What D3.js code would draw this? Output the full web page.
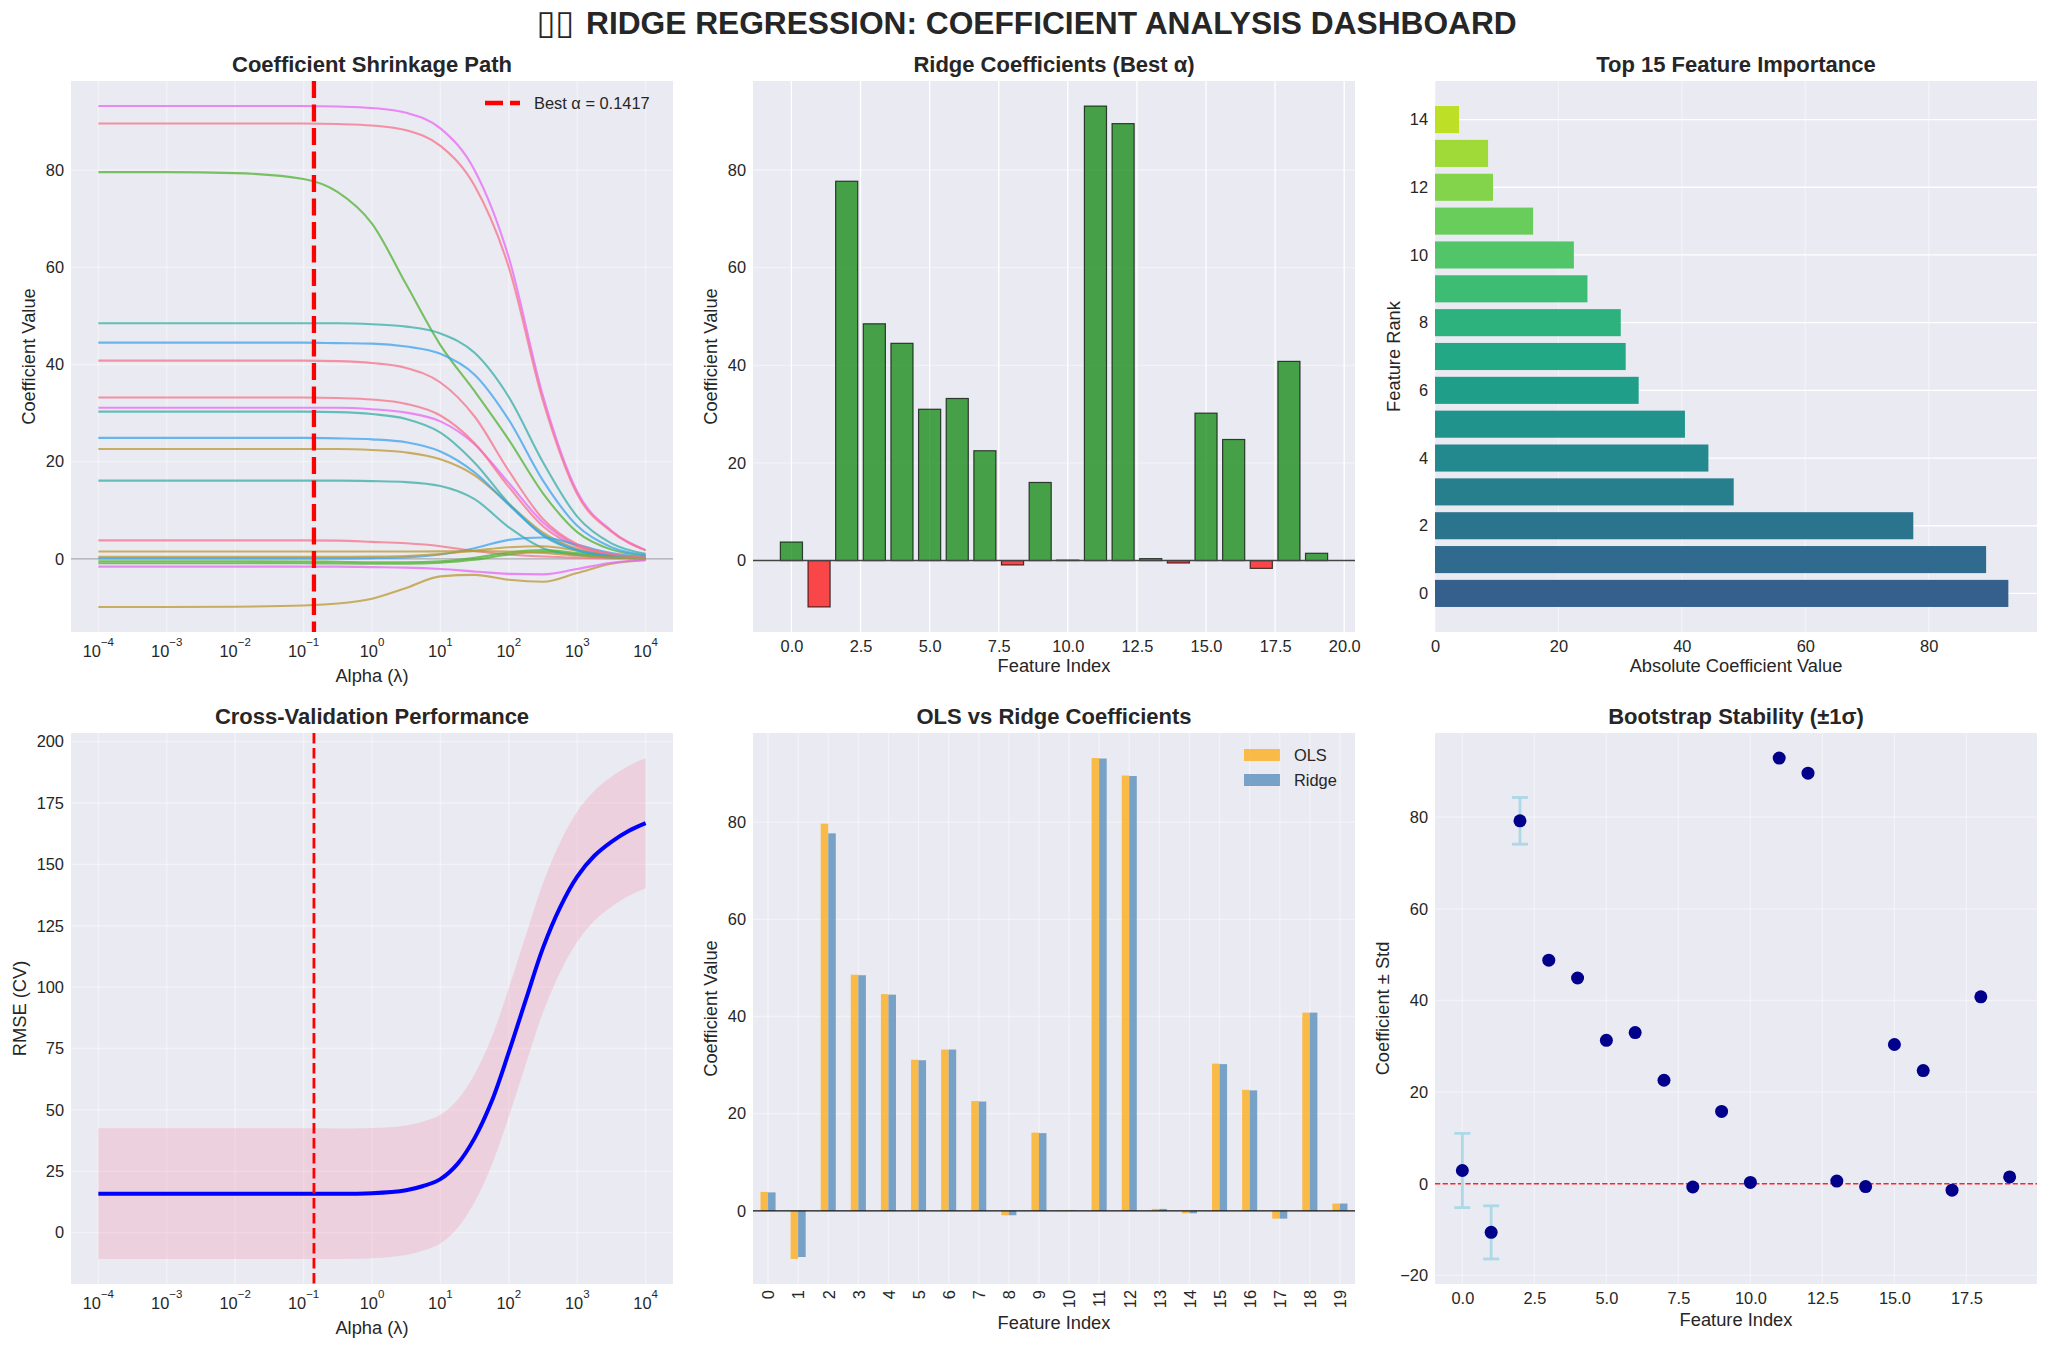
<!DOCTYPE html>
<html>
<head>
<meta charset="utf-8">
<script src="https://cdn.jsdelivr.net/npm/d3@7"></script>
<style>
body { margin: 0; background: #fff; }
text { font-family: "Liberation Sans", Arial, sans-serif; fill: #262626; }
</style>
</head>
<body>
<svg id="fig" width="2048" height="1349"></svg>
<script>

// ---------- data ----------
var features = [0, 1, 2, 3, 4, 5, 6, 7, 8, 9, 10, 11, 12, 13, 14, 15, 16, 17, 18, 19];
var olsCoef   = [3.9, -9.9, 79.7, 48.6, 44.6, 31.1, 33.2, 22.6, -0.9, 16.1, 0.1, 93.2, 89.6, 0.4, -0.5, 30.3, 24.9, -1.6, 40.8, 1.5];
var ridgeCoef = [3.8, -9.5, 77.7, 48.5, 44.5, 31.0, 33.2, 22.5, -0.9, 16.0, 0.1, 93.1, 89.5, 0.4, -0.5, 30.2, 24.8, -1.6, 40.8, 1.5];
var bestAlpha = 0.1417;

// shrinkage path, sampled along alpha
var pathAlpha = [1e-4, 1e-3, 1e-2, 1e-1, 0.316, 1, 3.16, 10, 31.6, 100, 316, 1000, 3160, 1e4];
var pathCoef = [
  [3.8, 3.8, 3.8, 3.8, 3.75, 3.5, 3.2, 2.6, 1.6, 0.9, 0.5, 0.25, 0.1, 0.04],
  [-9.9, -9.9, -9.85, -9.6, -9.2, -8.2, -6.0, -3.6, -3.3, -4.3, -4.7, -2.9, -1.0, -0.3],
  [79.6, 79.6, 79.4, 78.2, 75.5, 69.0, 56.5, 44.0, 34.5, 24.5, 13.5, 5.5, 1.9, 0.7],
  [48.5, 48.5, 48.5, 48.5, 48.5, 48.3, 47.8, 46.4, 42.4, 33.3, 19.9, 8.7, 3.2, 1.04],
  [44.5, 44.5, 44.5, 44.5, 44.4, 44.3, 43.7, 42.2, 37.9, 28.6, 16.1, 6.8, 2.4, 0.79],
  [31.1, 31.1, 31.1, 31.1, 31.1, 30.8, 30.1, 28.3, 23.6, 15.6, 7.5, 2.8, 0.96, 0.31],
  [33.2, 33.2, 33.2, 33.2, 33.1, 32.8, 31.9, 29.5, 23.8, 14.8, 6.7, 2.5, 0.82, 0.26],
  [22.6, 22.6, 22.6, 22.6, 22.6, 22.4, 21.9, 20.5, 17.2, 11.3, 5.4, 2.05, 0.69, 0.22],
  [-0.9, -0.9, -0.9, -0.9, -0.95, -1.0, -1.0, -0.8, -0.2, 0.9, 1.4, 0.9, 0.35, 0.1],
  [16.1, 16.1, 16.1, 16.1, 16.1, 16.0, 15.8, 15.0, 12.3, 6.5, 2.2, 0.8, 0.3, 0.1],
  [0.1, 0.1, 0.1, 0.1, 0.1, 0.15, 0.3, 0.9, 2.2, 3.9, 4.4, 2.9, 1.2, 0.4],
  [93.2, 93.2, 93.2, 93.2, 93.1, 92.8, 91.8, 88.6, 80.0, 62.0, 33.5, 13.8, 5.8, 1.8],
  [89.6, 89.6, 89.6, 89.6, 89.5, 89.2, 88.2, 85.0, 76.8, 60.0, 32.5, 13.3, 5.6, 1.75],
  [0.4, 0.4, 0.4, 0.4, 0.4, 0.45, 0.6, 1.0, 1.7, 2.4, 2.6, 1.7, 0.6, 0.2],
  [-0.5, -0.5, -0.5, -0.55, -0.6, -0.7, -0.7, -0.5, 0.2, 1.3, 1.8, 1.2, 0.45, 0.15],
  [30.3, 30.3, 30.3, 30.3, 30.2, 29.8, 28.8, 26.0, 19.8, 11.4, 4.8, 1.7, 0.57, 0.18],
  [24.9, 24.9, 24.9, 24.9, 24.8, 24.6, 24.0, 22.1, 17.8, 11.1, 5.0, 1.84, 0.62, 0.2],
  [-1.6, -1.6, -1.6, -1.6, -1.6, -1.7, -1.8, -2.1, -2.6, -3.1, -3.2, -2.1, -0.8, -0.25],
  [40.8, 40.8, 40.8, 40.8, 40.7, 40.3, 39.3, 36.3, 29.3, 18.1, 8.2, 3.0, 1.0, 0.32],
  [1.5, 1.5, 1.5, 1.5, 1.5, 1.5, 1.5, 1.55, 1.6, 1.5, 1.2, 0.7, 0.3, 0.1]
];

// cross-validation curve
var cvAlpha = [1e-4, 1e-3, 1e-2, 1e-1, 1, 3.16, 5.62, 10, 17.8, 31.6, 56.2, 100, 178, 316, 562, 1000, 1780, 3160, 5620, 1e4];
var cvMean  = [15.9, 15.9, 15.9, 15.9, 16.1, 17.3, 19.0, 21.8, 28.0, 38.5, 53.5, 73.5, 95.0, 116.0, 132.5, 145.0, 153.5, 159.2, 163.6, 166.8];
var cvStd   = [26.6, 26.6, 26.6, 26.6, 26.5, 26.4, 26.3, 26.2, 26.1, 26.0, 26.0, 26.1, 26.2, 26.3, 26.4, 26.5, 26.5, 26.5, 26.5, 26.5];

// top 15 importance
var ranks = [0, 1, 2, 3, 4, 5, 6, 7, 8, 9, 10, 11, 12, 13, 14];
var importance = [92.9, 89.3, 77.5, 48.4, 44.3, 40.5, 33.0, 30.9, 30.1, 24.7, 22.5, 15.9, 9.4, 8.6, 3.9];

// bootstrap
var bootMean = [2.9, -10.6, 79.2, 48.8, 44.9, 31.3, 33.0, 22.6, -0.7, 15.8, 0.3, 92.9, 89.6, 0.6, -0.6, 30.4, 24.7, -1.4, 40.8, 1.5];
var bootStd  = [8.1, 5.8, 5.1, 0, 0, 0, 0, 0, 0, 0, 0, 0, 0, 0, 0, 0, 0, 0, 0, 0];

// ticks
var decades = [-4, -3, -2, -1, 0, 1, 2, 3, 4];
var coefTicks = [0, 20, 40, 60, 80];
var rmseTicks = [0, 25, 50, 75, 100, 125, 150, 175, 200];
var idxTicks = [0, 2.5, 5, 7.5, 10, 12.5, 15, 17.5, 20];
var rankTicks = [0, 2, 4, 6, 8, 10, 12, 14];
var impTicks = [0, 20, 40, 60, 80];
var bootTicks = [-20, 0, 20, 40, 60, 80];

// ---------- layout ----------
var svg = d3.select("#fig");
var colX = [71, 753, 1435], rowY = [81, 733];
var PW = 602, PH = 551;
var TICK = 16.4, LABEL = 18.3, TITLE = 22;
var husl6 = ["#f77189", "#bb9832", "#50b131", "#36ada4", "#3ba3ec", "#e866f4"];
var faint = 0.4;

function makePanel(col, row) {
  var p = {x: colX[col], y: rowY[row], w: PW, h: PH};
  p.g = svg.append("g");
  p.g.append("rect").attr("x", p.x).attr("y", p.y).attr("width", p.w).attr("height", p.h)
    .attr("fill", "#eaeaf2");
  p.bottom = p.y + p.h;
  p.right = p.x + p.w;
  return p;
}

function padded(lo, hi) {
  var d = (hi - lo) * 0.05;
  return [lo - d, hi + d];
}

function logPadded(vals) {
  var lo = Math.log10(d3.min(vals)), hi = Math.log10(d3.max(vals));
  var d = (hi - lo) * 0.05;
  return [Math.pow(10, lo - d), Math.pow(10, hi + d)];
}

function gridX(p, x, vals, op) {
  p.g.selectAll(null).data(vals).enter().append("line")
    .attr("x1", function(d) { return x(d); }).attr("x2", function(d) { return x(d); })
    .attr("y1", p.y).attr("y2", p.bottom)
    .attr("stroke", "#fff").attr("stroke-width", 1.3).attr("stroke-opacity", op);
}

function gridY(p, y, vals, op) {
  p.g.selectAll(null).data(vals).enter().append("line")
    .attr("y1", function(d) { return y(d); }).attr("y2", function(d) { return y(d); })
    .attr("x1", p.x).attr("x2", p.right)
    .attr("stroke", "#fff").attr("stroke-width", 1.3).attr("stroke-opacity", op);
}

function styleAxis(g) {
  g.attr("font-size", null).attr("font-family", null);
  g.select(".domain").remove();
  g.selectAll("text").attr("font-size", TICK).attr("fill", "#262626");
  return g;
}

function yAxis(p, y, vals, fmt) {
  return styleAxis(p.g.append("g").attr("transform", "translate(" + p.x + ",0)")
    .call(d3.axisLeft(y).tickValues(vals).tickFormat(fmt).tickSize(0).tickPadding(7)));
}

function xAxis(p, x, vals, fmt) {
  return styleAxis(p.g.append("g").attr("transform", "translate(0," + p.bottom + ")")
    .call(d3.axisBottom(x).tickValues(vals).tickFormat(fmt).tickSize(0).tickPadding(8)));
}

function logXAxis(p, x) {
  var g = p.g.append("g");
  decades.forEach(function(e) {
    var t = g.append("text").attr("x", x(Math.pow(10, e))).attr("y", p.bottom + 25)
      .attr("text-anchor", "middle").attr("font-size", TICK).text("10");
    t.append("tspan").attr("dy", -11).attr("font-size", 11.5)
      .text(e < 0 ? "\u2212" + (-e) : String(e));
  });
}

function labels(p, title, xl, yl, xOff, yOff) {
  p.g.append("text").attr("x", p.x + p.w / 2).attr("y", p.y - 9)
    .attr("text-anchor", "middle").attr("font-size", TITLE).attr("font-weight", "bold").text(title);
  p.g.append("text").attr("x", p.x + p.w / 2).attr("y", p.bottom + xOff)
    .attr("text-anchor", "middle").attr("font-size", LABEL).text(xl);
  p.g.append("text").attr("text-anchor", "middle").attr("font-size", LABEL)
    .attr("transform", "translate(" + (p.x - yOff) + "," + (p.y + p.h / 2) + ") rotate(-90)")
    .text(yl);
}

var fmt0 = d3.format("d"), fmt1 = d3.format(".1f");

// ---------- suptitle ----------
// the two leading glyphs were missing in the original font and show as empty boxes
svg.append("text").attr("x", 574).attr("y", 34).attr("text-anchor", "end")
  .attr("font-size", 34).style("font-family", "'DejaVu Sans'").attr("fill", "#555")
  .text("\u25AF\u25AF");
svg.append("text").attr("x", 586).attr("y", 34)
  .attr("font-size", 31.7).attr("font-weight", "bold")
  .text("RIDGE REGRESSION: COEFFICIENT ANALYSIS DASHBOARD");

// ---------- 1: coefficient shrinkage path ----------
var p1 = makePanel(0, 0);
var x1 = d3.scaleLog().domain(logPadded(pathAlpha)).range([p1.x, p1.right]);
var allPath = d3.merge(pathCoef);
var y1 = d3.scaleLinear().domain(padded(d3.min(allPath), d3.max(allPath))).range([p1.bottom, p1.y]);
gridX(p1, x1, decades.map(function(e) { return Math.pow(10, e); }), faint);
gridY(p1, y1, coefTicks, faint);
p1.g.append("line").attr("x1", p1.x).attr("x2", p1.right).attr("y1", y1(0)).attr("y2", y1(0))
  .attr("stroke", "#000").attr("stroke-opacity", 0.3).attr("stroke-width", 1.1);
var line1 = d3.line().curve(d3.curveMonotoneX)
  .x(function(d, j) { return x1(pathAlpha[j]); }).y(function(d) { return y1(d); });
pathCoef.forEach(function(row, i) {
  p1.g.append("path").datum(row).attr("d", line1).attr("fill", "none")
    .attr("stroke", husl6[i % 6]).attr("stroke-width", 2.1).attr("stroke-opacity", 0.75);
});
p1.g.append("line").attr("x1", x1(bestAlpha)).attr("x2", x1(bestAlpha)).attr("y1", p1.y).attr("y2", p1.bottom)
  .attr("stroke", "red").attr("stroke-width", 4.3).attr("stroke-dasharray", "17,6.5");
p1.g.append("line").attr("x1", 485).attr("x2", 520).attr("y1", 103).attr("y2", 103)
  .attr("stroke", "red").attr("stroke-width", 4.3).attr("stroke-dasharray", "18,7");
p1.g.append("text").attr("x", 534).attr("y", 109).attr("font-size", TICK)
  .text("Best \u03b1 = " + bestAlpha);
yAxis(p1, y1, coefTicks, fmt0);
logXAxis(p1, x1);
labels(p1, "Coefficient Shrinkage Path", "Alpha (\u03bb)", "Coefficient Value", 50, 36);

// ---------- 2: ridge coefficients ----------
var p2 = makePanel(1, 0);
var x2 = d3.scaleLinear().domain(padded(-0.4, features.length - 1 + 0.4)).range([p2.x, p2.right]);
var y2 = d3.scaleLinear().domain(padded(Math.min(0, d3.min(ridgeCoef)), d3.max(ridgeCoef))).range([p2.bottom, p2.y]);
gridX(p2, x2, idxTicks, 1);
gridY(p2, y2, coefTicks, faint);
p2.g.selectAll(null).data(features).enter().append("rect")
  .attr("x", function(i) { return x2(i - 0.4); })
  .attr("width", x2(0.8) - x2(0))
  .attr("y", function(i) { return y2(Math.max(0, ridgeCoef[i])); })
  .attr("height", function(i) { return Math.abs(y2(ridgeCoef[i]) - y2(0)); })
  .attr("fill", function(i) { return ridgeCoef[i] >= 0 ? "green" : "red"; })
  .attr("fill-opacity", 0.7)
  .attr("stroke", "#000").attr("stroke-opacity", 0.7).attr("stroke-width", 1.2);
p2.g.append("line").attr("x1", p2.x).attr("x2", p2.right).attr("y1", y2(0)).attr("y2", y2(0))
  .attr("stroke", "#444").attr("stroke-width", 1.5);
yAxis(p2, y2, coefTicks, fmt0);
xAxis(p2, x2, idxTicks, fmt1);
labels(p2, "Ridge Coefficients (Best \u03b1)", "Feature Index", "Coefficient Value", 40, 36);

// ---------- 3: top 15 importance ----------
var p3 = makePanel(2, 0);
var x3 = d3.scaleLinear().domain([0, d3.max(importance) * 1.05]).range([p3.x, p3.right]);
var y3 = d3.scaleLinear().domain(padded(-0.4, ranks.length - 1 + 0.4)).range([p3.bottom, p3.y]);
gridX(p3, x3, impTicks, faint);
gridY(p3, y3, rankTicks, 1);
p3.g.selectAll(null).data(ranks).enter().append("rect")
  .attr("x", x3(0))
  .attr("y", function(r) { return y3(r + 0.4); })
  .attr("width", function(r) { return x3(importance[r]) - x3(0); })
  .attr("height", function(r) { return y3(r - 0.4) - y3(r + 0.4); })
  .attr("fill", function(r) { return d3.interpolateViridis(0.3 + 0.6 * r / (ranks.length - 1)); });
yAxis(p3, y3, rankTicks, fmt0);
xAxis(p3, x3, impTicks, fmt0);
labels(p3, "Top 15 Feature Importance", "Absolute Coefficient Value", "Feature Rank", 40, 35);

// ---------- 4: cross-validation ----------
var p4 = makePanel(0, 1);
var x4 = d3.scaleLog().domain(logPadded(cvAlpha)).range([p4.x, p4.right]);
var cvLo = cvMean.map(function(m, i) { return m - cvStd[i]; });
var cvHi = cvMean.map(function(m, i) { return m + cvStd[i]; });
var y4 = d3.scaleLinear().domain(padded(d3.min(cvLo), d3.max(cvHi))).range([p4.bottom, p4.y]);
var smooth = d3.curveCatmullRom.alpha(0.5);
gridX(p4, x4, decades.map(function(e) { return Math.pow(10, e); }), faint);
gridY(p4, y4, rmseTicks, faint);
p4.g.append("path").datum(cvAlpha)
  .attr("d", d3.area().curve(smooth)
    .x(function(a) { return x4(a); })
    .y0(function(a, i) { return y4(cvLo[i]); })
    .y1(function(a, i) { return y4(cvHi[i]); }))
  .attr("fill", "#f196af").attr("fill-opacity", 0.3);
p4.g.append("path").datum(cvMean)
  .attr("d", d3.line().curve(smooth)
    .x(function(d, i) { return x4(cvAlpha[i]); }).y(function(d) { return y4(d); }))
  .attr("fill", "none").attr("stroke", "blue").attr("stroke-width", 4);
p4.g.append("line").attr("x1", x4(bestAlpha)).attr("x2", x4(bestAlpha)).attr("y1", p4.y).attr("y2", p4.bottom)
  .attr("stroke", "red").attr("stroke-width", 2.8).attr("stroke-dasharray", "10.5,4.5");
yAxis(p4, y4, rmseTicks, fmt0);
logXAxis(p4, x4);
labels(p4, "Cross-Validation Performance", "Alpha (\u03bb)", "RMSE (CV)", 50, 45);

// ---------- 5: OLS vs Ridge ----------
var p5 = makePanel(1, 1);
var x5 = d3.scaleLinear().domain([-0.5, features.length - 0.5]).range([p5.x, p5.right]);
var both = olsCoef.concat(ridgeCoef);
var y5 = d3.scaleLinear().domain(padded(Math.min(0, d3.min(both)), d3.max(both))).range([p5.bottom, p5.y]);
gridX(p5, x5, features, faint);
gridY(p5, y5, coefTicks, faint);
[[olsCoef, "orange", -0.25], [ridgeCoef, "steelblue", 0]].forEach(function(s) {
  p5.g.selectAll(null).data(features).enter().append("rect")
    .attr("x", function(i) { return x5(i + s[2]); })
    .attr("width", x5(0.25) - x5(0))
    .attr("y", function(i) { return y5(Math.max(0, s[0][i])); })
    .attr("height", function(i) { return Math.abs(y5(s[0][i]) - y5(0)); })
    .attr("fill", s[1]).attr("fill-opacity", 0.7);
});
p5.g.append("line").attr("x1", p5.x).attr("x2", p5.right).attr("y1", y5(0)).attr("y2", y5(0))
  .attr("stroke", "#111").attr("stroke-width", 1.1);
[["OLS", "orange", 749], ["Ridge", "steelblue", 774]].forEach(function(l) {
  p5.g.append("rect").attr("x", 1244).attr("y", l[2]).attr("width", 36).attr("height", 12)
    .attr("fill", l[1]).attr("fill-opacity", 0.7);
  p5.g.append("text").attr("x", 1294).attr("y", l[2] + 12).attr("font-size", TICK).text(l[0]);
});
yAxis(p5, y5, coefTicks, fmt0);
var ax5 = xAxis(p5, x5, features, fmt0);
ax5.selectAll("text").attr("y", 0).attr("x", -6).attr("dy", "0.35em")
  .attr("transform", "rotate(-90)").attr("text-anchor", "end");
labels(p5, "OLS vs Ridge Coefficients", "Feature Index", "Coefficient Value", 45, 36);

// ---------- 6: bootstrap stability ----------
var p6 = makePanel(2, 1);
var x6 = d3.scaleLinear().domain(padded(0, features.length - 1)).range([p6.x, p6.right]);
var bLo = bootMean.map(function(m, i) { return m - bootStd[i]; });
var bHi = bootMean.map(function(m, i) { return m + bootStd[i]; });
var y6 = d3.scaleLinear().domain(padded(d3.min(bLo), d3.max(bHi))).range([p6.bottom, p6.y]);
gridX(p6, x6, idxTicks.slice(0, 8), faint);
gridY(p6, y6, bootTicks, faint);
p6.g.append("line").attr("x1", p6.x).attr("x2", p6.right).attr("y1", y6(0)).attr("y2", y6(0))
  .attr("stroke", "red").attr("stroke-opacity", 0.85).attr("stroke-width", 1.5).attr("stroke-dasharray", "5.3,2.3");
var withErr = features.filter(function(i) { return bootStd[i] > 0; });
var eb = p6.g.selectAll(null).data(withErr).enter().append("g")
  .attr("stroke", "#add8e6").attr("stroke-width", 2.8);
eb.append("line").attr("x1", function(i) { return x6(i); }).attr("x2", function(i) { return x6(i); })
  .attr("y1", function(i) { return y6(bLo[i]); }).attr("y2", function(i) { return y6(bHi[i]); });
eb.append("line").attr("x1", function(i) { return x6(i) - 8; }).attr("x2", function(i) { return x6(i) + 8; })
  .attr("y1", function(i) { return y6(bLo[i]); }).attr("y2", function(i) { return y6(bLo[i]); });
eb.append("line").attr("x1", function(i) { return x6(i) - 8; }).attr("x2", function(i) { return x6(i) + 8; })
  .attr("y1", function(i) { return y6(bHi[i]); }).attr("y2", function(i) { return y6(bHi[i]); });
p6.g.selectAll(null).data(features).enter().append("circle")
  .attr("cx", function(i) { return x6(i); }).attr("cy", function(i) { return y6(bootMean[i]); })
  .attr("r", 6.5).attr("fill", "#00008b");
yAxis(p6, y6, bootTicks, fmt0);
xAxis(p6, x6, idxTicks.slice(0, 8), fmt1);
labels(p6, "Bootstrap Stability (\u00b11\u03c3)", "Feature Index", "Coefficient \u00b1 Std", 42, 46);

</script>
</body>
</html>
